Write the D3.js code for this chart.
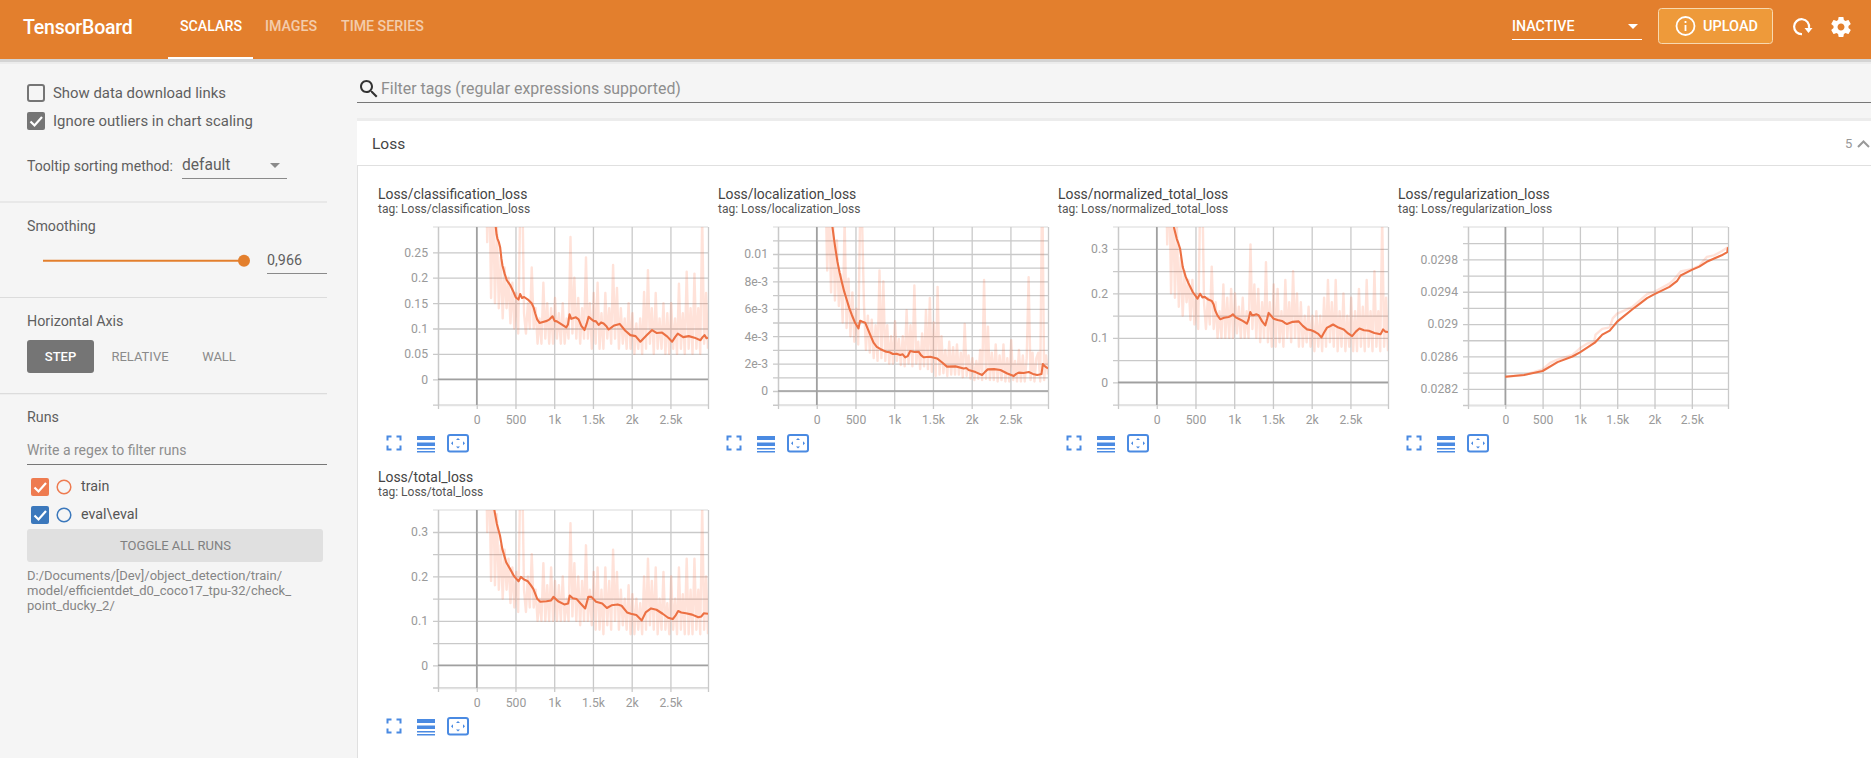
<!DOCTYPE html>
<html>
<head>
<meta charset="utf-8">
<title>TensorBoard</title>
<script src="https://cdn.jsdelivr.net/npm/d3@7"></script>
<style>
  html, body { margin: 0; padding: 0; background: #f5f5f5; overflow: hidden; }
  svg { display: block; font-family: Roboto, sans-serif; }
  .axis text { font-family: Roboto, sans-serif; font-size: 12.2px; fill: #9a9a9a; }
  .axis .domain { stroke: #e2e2e2; stroke-width: 1.5; }
  .axis .tick line { stroke: #c9c9c9; stroke-width: 1.3; }
</style>
</head>
<body>
<div id="board"></div>
<script>
// x axis, same for every card
const xTickValues = [-500, 0, 500, 1000, 1500, 2000, 2500, 2985]
const xTickLabels = ['', '0', '500', '1k', '1.5k', '2k', '2.5k', '']
const xDomain = [-500, 2985]

// raw points are one every 25 steps
const rawSteps = d3.range(110, 3000, 25)

// Loss/classification_loss
const classYDomain = [-0.0506, 0.2998]
const classYTicks = [-0.05, 0, 0.05, 0.1, 0.15, 0.2, 0.25]
const classYLabels = ['', '0', '0.05', '0.1', '0.15', '0.2', '0.25']
const classRaw = [
  .55,.27,.42,.16,.36,.15,.30,.14,.24,.12,
  .22,.14,.20,.11,.19,.10,.17,.09,.33,.42,
  .13,.09,.15,.10,.22,.10,.14,.07,.12,.07,
  .19,.08,.15,.07,.14,.07,.16,.08,.13,.07,
  .15,.07,.12,.08,.28,.09,.20,.08,.16,.07,
  .14,.08,.24,.08,.15,.06,.17,.07,.19,.06,
  .13,.06,.17,.08,.14,.07,.225,.08,.18,.06,
  .14,.07,.12,.06,.15,.06,.13,.05,.11,.06,
  .12,.05,.172,.06,.215,.07,.14,.05,.17,.06,
  .12,.06,.15,.05,.13,.05,.15,.06,.12,.05,
  .188,.06,.13,.05,.212,.06,.14,.05,.208,.06,
  .14,.05,.32,.07,.17,.06
]
const classSmoothSteps = [200,245,256,267,285,302,318,332,360,388,430,474,505,539,560,585,612,660,711,735,754,780,810,855,905,940,978,1005,1034,1095,1155,1178,1198,1220,1241,1280,1315,1350,1392,1420,1444,1475,1508,1540,1573,1605,1638,1670,1703,1775,1845,1915,1983,2050,2112,2190,2263,2325,2392,2460,2522,2560,2595,2665,2737,2810,2888,2915,2940,2965,2985]
const classSmooth = [.36,.30,.285,.277,.27,.26,.238,.224,.208,.195,.186,.172,.161,.157,.168,.160,.162,.157,.149,.141,.130,.118,.111,.113,.115,.118,.124,.115,.114,.108,.102,.108,.128,.119,.120,.122,.118,.105,.097,.110,.123,.119,.115,.114,.107,.112,.110,.105,.098,.106,.109,.096,.087,.085,.074,.086,.097,.091,.092,.084,.074,.083,.090,.083,.085,.082,.077,.083,.087,.081,.082]

// Loss/localization_loss
const locYDomain = [-0.00102, 0.01197]
const locYTicks = [-0.001, 0, 0.001, 0.002, 0.003, 0.004, 0.005, 0.006, 0.007, 0.008, 0.009, 0.01, 0.011]
const locYLabels = ['', '0', '', '2e-3', '', '4e-3', '', '6e-3', '', '8e-3', '', '0.01', '']
const locRaw = [
  .0160,.0088,.0135,.0072,.0128,.0066,.0110,.0062,.0085,.0050,
  .0125,.0046,.0082,.0040,.0072,.0036,.0060,.0034,.0130,.0125,
  .0062,.0030,.0055,.0028,.0052,.0024,.0048,.0022,.0088,.0024,
  .0080,.0022,.0048,.0020,.0040,.0020,.0051,.0022,.0038,.0019,
  .0040,.0018,.0059,.0020,.0048,.0018,.0077,.0020,.0036,.0016,
  .0042,.0018,.0059,.0016,.0068,.0014,.0050,.0011,.0076,.0012,
  .0040,.0013,.0030,.0011,.0036,.0012,.0032,.0012,.0034,.0012,
  .0028,.0010,.0049,.0011,.0026,.0009,.0024,.0008,.0022,.0009,
  .0030,.0008,.0081,.0009,.0047,.0008,.0028,.0008,.0034,.0007,
  .0026,.0008,.0034,.0007,.0024,.0007,.0037,.0008,.0022,.0007,
  .0030,.0007,.0026,.0007,.0024,.0083,.0008,.0028,.0007,.0024,
  .0028,.0007,.0160,.0008,.0026,.0012
]
const locSmoothSteps = [170,203,237,267,295,323,355,388,420,453,495,539,560,590,625,680,733,775,819,860,897,940,983,1030,1078,1110,1142,1175,1207,1260,1315,1345,1379,1465,1552,1615,1681,1790,1897,1930,1961,2050,2134,2170,2207,2290,2371,2460,2543,2575,2608,2670,2737,2790,2845,2875,2901,2918,2950,2985]
const locSmooth = [.0135,.01195,.01054,.00944,.00865,.00798,.00725,.00664,.00605,.00555,.00498,.00457,.00513,.00505,.00499,.00425,.00353,.00322,.00307,.00296,.00287,.00283,.0027,.00272,.00263,.00268,.00246,.00255,.00292,.00285,.00287,.00262,.00246,.0025,.00238,.0021,.00178,.0018,.00165,.00168,.00153,.00138,.00117,.00138,.00158,.0016,.00153,.00128,.00109,.00125,.00134,.00132,.00139,.00125,.00117,.0012,.00124,.00197,.00178,.00165]

// Loss/normalized_total_loss
const normYDomain = [-0.0508, 0.349]
const normYTicks = [-0.05, 0, 0.05, 0.1, 0.15, 0.2, 0.25, 0.3]
const normYLabels = ['', '0', '', '0.1', '', '0.2', '', '0.3']
const normRaw = [
  .62,.31,.47,.20,.41,.19,.35,.17,.28,.15,
  .25,.18,.23,.14,.23,.13,.20,.12,.41,.48,
  .18,.12,.19,.13,.26,.12,.18,.10,.16,.10,
  .22,.10,.19,.10,.21,.10,.20,.11,.17,.10,
  .19,.10,.16,.10,.31,.12,.22,.10,.21,.09,
  .18,.10,.27,.09,.18,.08,.22,.08,.21,.09,
  .16,.08,.23,.10,.18,.09,.25,.10,.20,.08,
  .18,.08,.15,.09,.17,.08,.15,.07,.16,.08,
  .15,.07,.19,.08,.23,.09,.18,.08,.23,.07,
  .16,.08,.20,.07,.15,.08,.19,.07,.16,.07,
  .21,.08,.17,.07,.23,.08,.16,.07,.25,.08,
  .16,.07,.37,.08,.19,.07
]
const normSmoothSteps = [190,224,259,280,302,320,336,372,409,465,526,560,590,620,665,711,735,754,785,819,870,927,955,983,1020,1056,1110,1164,1185,1207,1230,1250,1285,1315,1360,1401,1425,1444,1475,1509,1560,1616,1650,1681,1755,1832,1885,1940,1995,2047,2085,2125,2160,2198,2235,2276,2345,2414,2470,2522,2570,2616,2675,2737,2810,2888,2905,2922,2950,2985]
const normSmooth = [.39,.347,.322,.312,.30,.278,.259,.238,.223,.203,.188,.199,.191,.192,.186,.183,.175,.162,.15,.142,.145,.147,.149,.153,.146,.143,.138,.132,.141,.158,.151,.151,.153,.151,.137,.128,.143,.156,.15,.143,.14,.138,.134,.131,.136,.137,.127,.119,.117,.113,.109,.101,.112,.123,.126,.13,.123,.119,.11,.104,.114,.121,.117,.116,.111,.108,.113,.119,.114,.113]

// Loss/regularization_loss
const regYDomain = [0.028, 0.0302]
const regYTicks = [0.028, 0.0282, 0.0284, 0.0286, 0.0288, 0.029, 0.0292, 0.0294, 0.0296, 0.0298, 0.03]
const regYLabels = ['', '0.0282', '', '0.0286', '', '0.029', '', '0.0294', '', '0.0298', '']
const regRawSteps = [0,250,500,600,700,900,1000,1100,1190,1210,1300,1400,1440,1500,1700,1900,2000,2200,2250,2350,2500,2600,2700,2800,2900,2985]
const regRaw = [.02835,.02837,.02844,.02852,.02856,.02862,.0287,.02876,.02878,.02887,.02894,.02896,.02907,.02913,.02921,.02937,.0294,.0295,.02954,.02965,.02968,.02972,.02983,.02985,.0299,.02995]
const regSmoothSteps = [0,250,500,700,900,1000,1200,1300,1400,1500,1700,1800,1900,2000,2200,2300,2350,2500,2600,2700,2800,2900,2975,2985]
const regSmooth = [.02835,.02837,.02842,.02853,.0286,.02865,.02877,.02887,.02892,.02903,.02918,.02925,.02932,.02937,.02946,.02953,.0296,.02967,.02971,.02977,.02981,.02985,.02989,.02995]

// Loss/total_loss
const totalYDomain = [-0.0511, 0.3495]
const totalYTicks = [-0.05, 0, 0.05, 0.1, 0.15, 0.2, 0.25, 0.3]
const totalYLabels = ['', '0', '', '0.1', '', '0.2', '', '0.3']
const totalRaw = [
  .60,.30,.46,.19,.42,.18,.34,.17,.27,.15,
  .26,.17,.24,.14,.22,.13,.21,.12,.40,.46,
  .17,.12,.20,.13,.25,.13,.17,.10,.15,.10,
  .23,.10,.18,.10,.22,.10,.19,.10,.18,.10,
  .20,.10,.15,.10,.32,.11,.23,.10,.20,.09,
  .19,.10,.27,.10,.17,.09,.21,.08,.22,.08,
  .17,.07,.22,.09,.19,.08,.26,.10,.21,.08,
  .17,.09,.15,.08,.18,.07,.16,.07,.15,.08,
  .14,.07,.20,.08,.24,.09,.19,.08,.22,.07,
  .15,.08,.21,.08,.14,.07,.20,.08,.15,.07,
  .22,.08,.16,.07,.24,.07,.17,.07,.24,.08,
  .17,.07,.36,.08,.20,.07
]
const totalSmoothSteps = [190,230,260,300,330,380,430,480,540,570,610,660,700,730,780,820,900,960,990,1050,1130,1180,1200,1240,1290,1340,1400,1440,1480,1540,1620,1680,1740,1820,1870,1940,1990,2060,2130,2180,2250,2320,2400,2470,2530,2570,2600,2640,2700,2780,2860,2900,2930,2985]
const totalSmooth = [.39,.347,.318,.292,.262,.232,.217,.201,.189,.199,.193,.189,.18,.172,.15,.143,.144,.146,.154,.144,.137,.139,.157,.151,.149,.139,.128,.154,.154,.143,.139,.129,.135,.137,.134,.119,.116,.113,.101,.119,.128,.125,.116,.107,.104,.113,.122,.119,.117,.114,.108,.11,.117,.116]

// sidebar / header texts
const navTabs = ['SCALARS', 'IMAGES', 'TIME SERIES']
const axisModes = ['STEP', 'RELATIVE', 'WALL']
const logdirLines = ['D:/Documents/[Dev]/object_detection/train/', 'model/efficientdet_d0_coco17_tpu-32/check_', 'point_ducky_2/']

const orange = '#e37f2d'
const runColor = '#ec7043'
const blue = '#4a8ae2'

const svg = d3.select('#board').append('svg')
  .attr('width', 1871)
  .attr('height', 758)

function rect(x, y, w, h, fill, r) {
  return svg.append('rect')
    .attr('x', x).attr('y', y)
    .attr('width', w).attr('height', h)
    .attr('rx', r || 0)
    .attr('fill', fill)
}

function hline(x1, x2, y, color, sw) {
  return svg.append('line')
    .attr('x1', x1).attr('x2', x2)
    .attr('y1', y).attr('y2', y)
    .attr('stroke', color)
    .attr('stroke-width', sw || 1)
}

function label(x, y, str, size, color, weight, anchor) {
  return svg.append('text')
    .attr('x', x).attr('y', y)
    .attr('dy', '.35em')
    .attr('font-size', size)
    .attr('font-weight', weight || 400)
    .attr('text-anchor', anchor || 'start')
    .attr('fill', color)
    .text(str)
}

function icon(d, x, y, scale, fill) {
  return svg.append('path')
    .attr('d', d)
    .attr('transform', `translate(${x},${y}) scale(${scale})`)
    .attr('fill', fill)
}

function check(x, y, color) {
  svg.append('path')
    .attr('d', `M${x + 3.5} ${y + 9.5} L${x + 7.5} ${y + 13.5} L${x + 15} ${y + 5}`)
    .attr('fill', 'none')
    .attr('stroke', color)
    .attr('stroke-width', 2.2)
}

function drawHeader() {
  rect(0, 59, 1871, 5, '#d4d4d4')
  rect(0, 62, 1871, 2, '#ececec')
  rect(0, 0, 1871, 59, orange)
  label(23, 27, 'TensorBoard', 19.5, '#fff', 500).attr('letter-spacing', '-0.2px')
  const tabX = [180, 265, 341]
  navTabs.forEach((t, i) => {
    label(tabX[i], 26, t, 14.2, '#fff', 500).attr('opacity', i === 0 ? 1 : 0.6)
  })
  rect(168, 57, 85, 2, '#fff')

  label(1512, 26, 'INACTIVE', 14.2, '#fff', 500)
  hline(1512, 1642, 39.5, '#fff', 1.2)
  svg.append('path').attr('d', 'M1628 24 L1638 24 L1633 29 Z').attr('fill', '#fff')

  rect(1658.5, 8.5, 114, 35, '#ee9a3a', 3).attr('stroke', '#f8d9b0').attr('stroke-width', 1)
  svg.append('circle').attr('cx', 1685.5).attr('cy', 26).attr('r', 9)
    .attr('fill', 'none').attr('stroke', '#fff').attr('stroke-width', 1.8)
  rect(1684.6, 25, 1.8, 6, '#fff')
  rect(1684.6, 21, 1.8, 2, '#fff')
  label(1703, 25.5, 'UPLOAD', 14.5, '#fff', 500)

  svg.append('path')
    .attr('d', 'M1802 34.2 A7.5 7.5 0 1 1 1809 28')
    .attr('fill', 'none').attr('stroke', '#fff').attr('stroke-width', 2.2)
  svg.append('path').attr('d', 'M1804.5 28 L1812.5 28 L1808.5 33 Z').attr('fill', '#fff')
  icon('M19.43 12.98c.04-.32.07-.64.07-.98s-.03-.66-.07-.98l2.11-1.65c.19-.15.24-.42.12-.64l-2-3.46c-.12-.22-.39-.3-.61-.22l-2.49 1c-.52-.4-1.08-.73-1.69-.98l-.38-2.65C14.46 2.18 14.25 2 14 2h-4c-.25 0-.46.18-.49.42l-.38 2.65c-.61.25-1.17.59-1.69.98l-2.49-1c-.23-.09-.49 0-.61.22l-2 3.46c-.13.22-.07.49.12.64l2.11 1.65c-.04.32-.07.65-.07.98s.03.66.07.98l-2.11 1.65c-.19.15-.24.42-.12.64l2 3.46c.12.22.39.3.61.22l2.49-1c.52.4 1.08.73 1.69.98l.38 2.65c.03.24.24.42.49.42h4c.25 0 .46-.18.49-.42l.38-2.65c.61-.25 1.17-.59 1.69-.98l2.49 1c.23.09.49 0 .61-.22l2-3.46c.12-.22.07-.49-.12-.64l-2.11-1.65zM12 15.5c-1.93 0-3.5-1.57-3.5-3.5s1.57-3.5 3.5-3.5 3.5 1.57 3.5 3.5-1.57 3.5-3.5 3.5z', 1829, 15, 1, '#fff')
}

function drawSidebar() {
  const text = '#5f5f5f'
  rect(28, 85, 16, 16, 'none', 2).attr('stroke', '#757575').attr('stroke-width', 2)
  label(53, 93, 'Show data download links', 14.9, text)
  rect(27, 112, 18, 18, '#757575', 2)
  check(27, 112, '#fff')
  label(53, 121, 'Ignore outliers in chart scaling', 14.9, text)

  label(27, 166, 'Tooltip sorting method:', 14.1, text)
  label(182, 165, 'default', 15.6, text)
  svg.append('path').attr('d', 'M270 163 L280 163 L275 168 Z').attr('fill', '#8a8a8a')
  hline(182, 287, 178.5, '#8a8a8a', 1.2)
  hline(0, 327, 202, '#dcdcdc', 1.2)

  label(27, 226, 'Smoothing', 14.2, text)
  hline(43, 244, 260.7, orange, 2)
  svg.append('circle').attr('cx', 244).attr('cy', 260.7).attr('r', 6).attr('fill', orange)
  label(267, 260, '0,966', 14.3, text)
  hline(267, 327, 273.5, '#8a8a8a', 1.2)
  hline(0, 327, 297.5, '#dcdcdc', 1.2)

  label(27, 321, 'Horizontal Axis', 14.3, text)
  rect(27, 340, 67, 33, '#757575', 3)
  const modeX = [60.5, 140, 219]
  axisModes.forEach((m, i) => {
    label(modeX[i], 356.5, m, 13, i === 0 ? '#fff' : '#8a8a8a', i === 0 ? 500 : 400, 'middle')
  })
  hline(0, 327, 393.7, '#dcdcdc', 1.2)

  label(27, 417, 'Runs', 14.3, text)
  label(27, 450, 'Write a regex to filter runs', 14, '#8e8e8e')
  hline(27, 327, 464.5, '#777', 1.2)

  rect(31, 478, 18, 18, '#ee7b50', 2)
  check(31, 478, '#fff')
  svg.append('circle').attr('cx', 64).attr('cy', 487).attr('r', 6.8)
    .attr('fill', 'none').attr('stroke', '#ee7b50').attr('stroke-width', 1.5)
  label(81, 486, 'train', 14.3, '#555')

  rect(31, 506, 18, 18, '#3b78bc', 2)
  check(31, 506, '#fff')
  svg.append('circle').attr('cx', 64).attr('cy', 515).attr('r', 6.8)
    .attr('fill', 'none').attr('stroke', '#3b78bc').attr('stroke-width', 1.5)
  label(81, 514, 'eval\\eval', 14.3, '#555')

  rect(27, 529, 296, 33, '#e0e0e0', 3)
  label(175.5, 545.5, 'TOGGLE ALL RUNS', 13, '#808080', 400, 'middle')
  logdirLines.forEach((l, i) => {
    label(27, 575 + i * 15, l, 13, '#858585')
  })
}

function drawMain() {
  rect(357, 121, 1514, 637, '#fff')
  rect(357, 118, 1514, 3, '#ececec')
  hline(357, 1871, 165.5, '#e0e0e0', 1.2)
  svg.append('line').attr('x1', 357.5).attr('x2', 357.5).attr('y1', 165).attr('y2', 758)
    .attr('stroke', '#e0e0e0').attr('stroke-width', 1)

  icon('M15.5 14h-.79l-.28-.27C15.41 12.59 16 11.11 16 9.5 16 5.91 13.09 3 9.5 3S3 5.91 3 9.5 5.91 16 9.5 16c1.61 0 3.09-.59 4.23-1.57l.27.28v.79l5 4.99L20.49 19l-4.99-5zm-6 0C7.01 14 5 11.99 5 9.5S7.01 5 9.5 5 14 7.01 14 9.5 11.99 14 9.5 14z', 357, 77, 1, '#333')
  label(381, 88, 'Filter tags (regular expressions supported)', 15.9, '#8e8e8e')
  hline(357, 1871, 102.5, '#777', 1.2)

  label(372, 144, 'Loss', 15.5, '#444')
  label(1845, 143, '5', 13, '#999')
  svg.append('path').attr('d', 'M1858 147 L1863.5 141.5 L1869 147')
    .attr('fill', 'none').attr('stroke', '#999').attr('stroke-width', 2)
}

function drawButtons(x, y) {
  // fullscreen, y-log and fit-domain buttons under a chart
  svg.append('path')
    .attr('d', `M${x} ${y + 4} V${y} H${x + 4} M${x + 9} ${y} H${x + 13} V${y + 4} M${x + 13} ${y + 9} V${y + 13} H${x + 9} M${x + 4} ${y + 13} H${x} V${y + 9}`)
    .attr('transform', 'translate(.5,.5)')
    .attr('fill', 'none').attr('stroke', blue).attr('stroke-width', 2)
  const bars = [[0, 4], [6.5, 3.5], [12, 1.5], [15, 1.5]]
  bars.forEach(b => rect(x + 30, y + b[0], 18, b[1], blue))
  rect(x + 61, y - 1, 20, 16.5, 'none', 2).attr('stroke', blue).attr('stroke-width', 2)
  svg.append('path')
    .attr('d', `M${x + 71} ${y + 2} l2 2 h-4 Z M${x + 71} ${y + 12.5} l2 -2 h-4 Z M${x + 64} ${y + 7.2} l2 -2 v4 Z M${x + 78} ${y + 7.2} l-2 -2 v4 Z`)
    .attr('fill', blue)
}

function drawChart(c, idx) {
  const height = 178
  label(c.cardX + 21, c.top - 33, c.name, 13.9, '#444')
  label(c.cardX + 21, c.top - 18.5, 'tag: ' + c.name, 12, '#555')

  const x = d3.scaleLinear().domain(xDomain).range([0, c.width])
  const y = d3.scaleLinear().domain(c.yDomain).range([height, 0])

  const g = svg.append('g').attr('transform', `translate(${c.left},${c.top})`)

  // frame line on top of the plot
  g.append('line').attr('x1', -5).attr('x2', c.width).attr('y1', 0).attr('y2', 0)
    .attr('stroke', '#e6e6e6').attr('stroke-width', 1.5)

  const yAxis = g.append('g').attr('class', 'axis')
    .call(d3.axisLeft(y)
      .tickValues(c.yTicks)
      .tickFormat((d, i) => c.yLabels[i])
      .tickSizeOuter(0)
      .tickPadding(4))
  yAxis.selectAll('.tick line').attr('x1', -5).attr('x2', c.width)

  const xAxis = g.append('g').attr('class', 'axis')
    .attr('transform', `translate(0,${height})`)
    .call(d3.axisBottom(x)
      .tickValues(xTickValues)
      .tickFormat((d, i) => xTickLabels[i])
      .tickSizeOuter(0)
      .tickPadding(4))
  xAxis.selectAll('.tick line').attr('y1', 4).attr('y2', -height)

  // the two zero lines are heavier than the grid
  g.append('line').attr('x1', x(0)).attr('x2', x(0)).attr('y1', 0).attr('y2', height)
    .attr('stroke', '#a0a0a0').attr('stroke-width', 1.6)
  if (c.yDomain[0] < 0) {
    g.append('line').attr('x1', 0).attr('x2', c.width).attr('y1', y(0)).attr('y2', y(0))
      .attr('stroke', '#a0a0a0').attr('stroke-width', 1.6)
  }

  g.append('clipPath').attr('id', 'clip' + idx)
    .append('rect').attr('width', c.width).attr('height', height)

  const line = d3.line().x(d => x(d[0])).y(d => y(d[1]))
  const plot = g.append('g').attr('clip-path', `url(#clip${idx})`)

  plot.append('path')
    .attr('d', line(c.raw.map((v, i) => [c.rawSteps[i], v])))
    .attr('fill', 'none')
    .attr('stroke', '#ff7043')
    .attr('stroke-width', 2.4)
    .attr('stroke-opacity', 0.2)
    .attr('stroke-linejoin', 'round')

  plot.append('path')
    .attr('d', line(c.smooth.map((v, i) => [c.smoothSteps[i], v])))
    .attr('fill', 'none')
    .attr('stroke', runColor)
    .attr('stroke-width', 2.1)
    .attr('stroke-linejoin', 'round')

  drawButtons(c.cardX + 30, c.top + 209)
}

drawHeader()
drawSidebar()
drawMain()

drawChart({ name: 'Loss/classification_loss', cardX: 357, left: 438, top: 227, width: 270, yDomain: classYDomain, yTicks: classYTicks, yLabels: classYLabels, rawSteps, raw: classRaw, smoothSteps: classSmoothSteps, smooth: classSmooth }, 0)
drawChart({ name: 'Loss/localization_loss', cardX: 697, left: 778, top: 227, width: 270, yDomain: locYDomain, yTicks: locYTicks, yLabels: locYLabels, rawSteps, raw: locRaw, smoothSteps: locSmoothSteps, smooth: locSmooth }, 1)
drawChart({ name: 'Loss/normalized_total_loss', cardX: 1037, left: 1118, top: 227, width: 270, yDomain: normYDomain, yTicks: normYTicks, yLabels: normYLabels, rawSteps, raw: normRaw, smoothSteps: normSmoothSteps, smooth: normSmooth }, 2)
drawChart({ name: 'Loss/regularization_loss', cardX: 1377, left: 1468, top: 227, width: 260, yDomain: regYDomain, yTicks: regYTicks, yLabels: regYLabels, rawSteps: regRawSteps, raw: regRaw, smoothSteps: regSmoothSteps, smooth: regSmooth }, 3)
drawChart({ name: 'Loss/total_loss', cardX: 357, left: 438, top: 510, width: 270, yDomain: totalYDomain, yTicks: totalYTicks, yLabels: totalYLabels, rawSteps, raw: totalRaw, smoothSteps: totalSmoothSteps, smooth: totalSmooth }, 4)
</script>
</body>
</html>
